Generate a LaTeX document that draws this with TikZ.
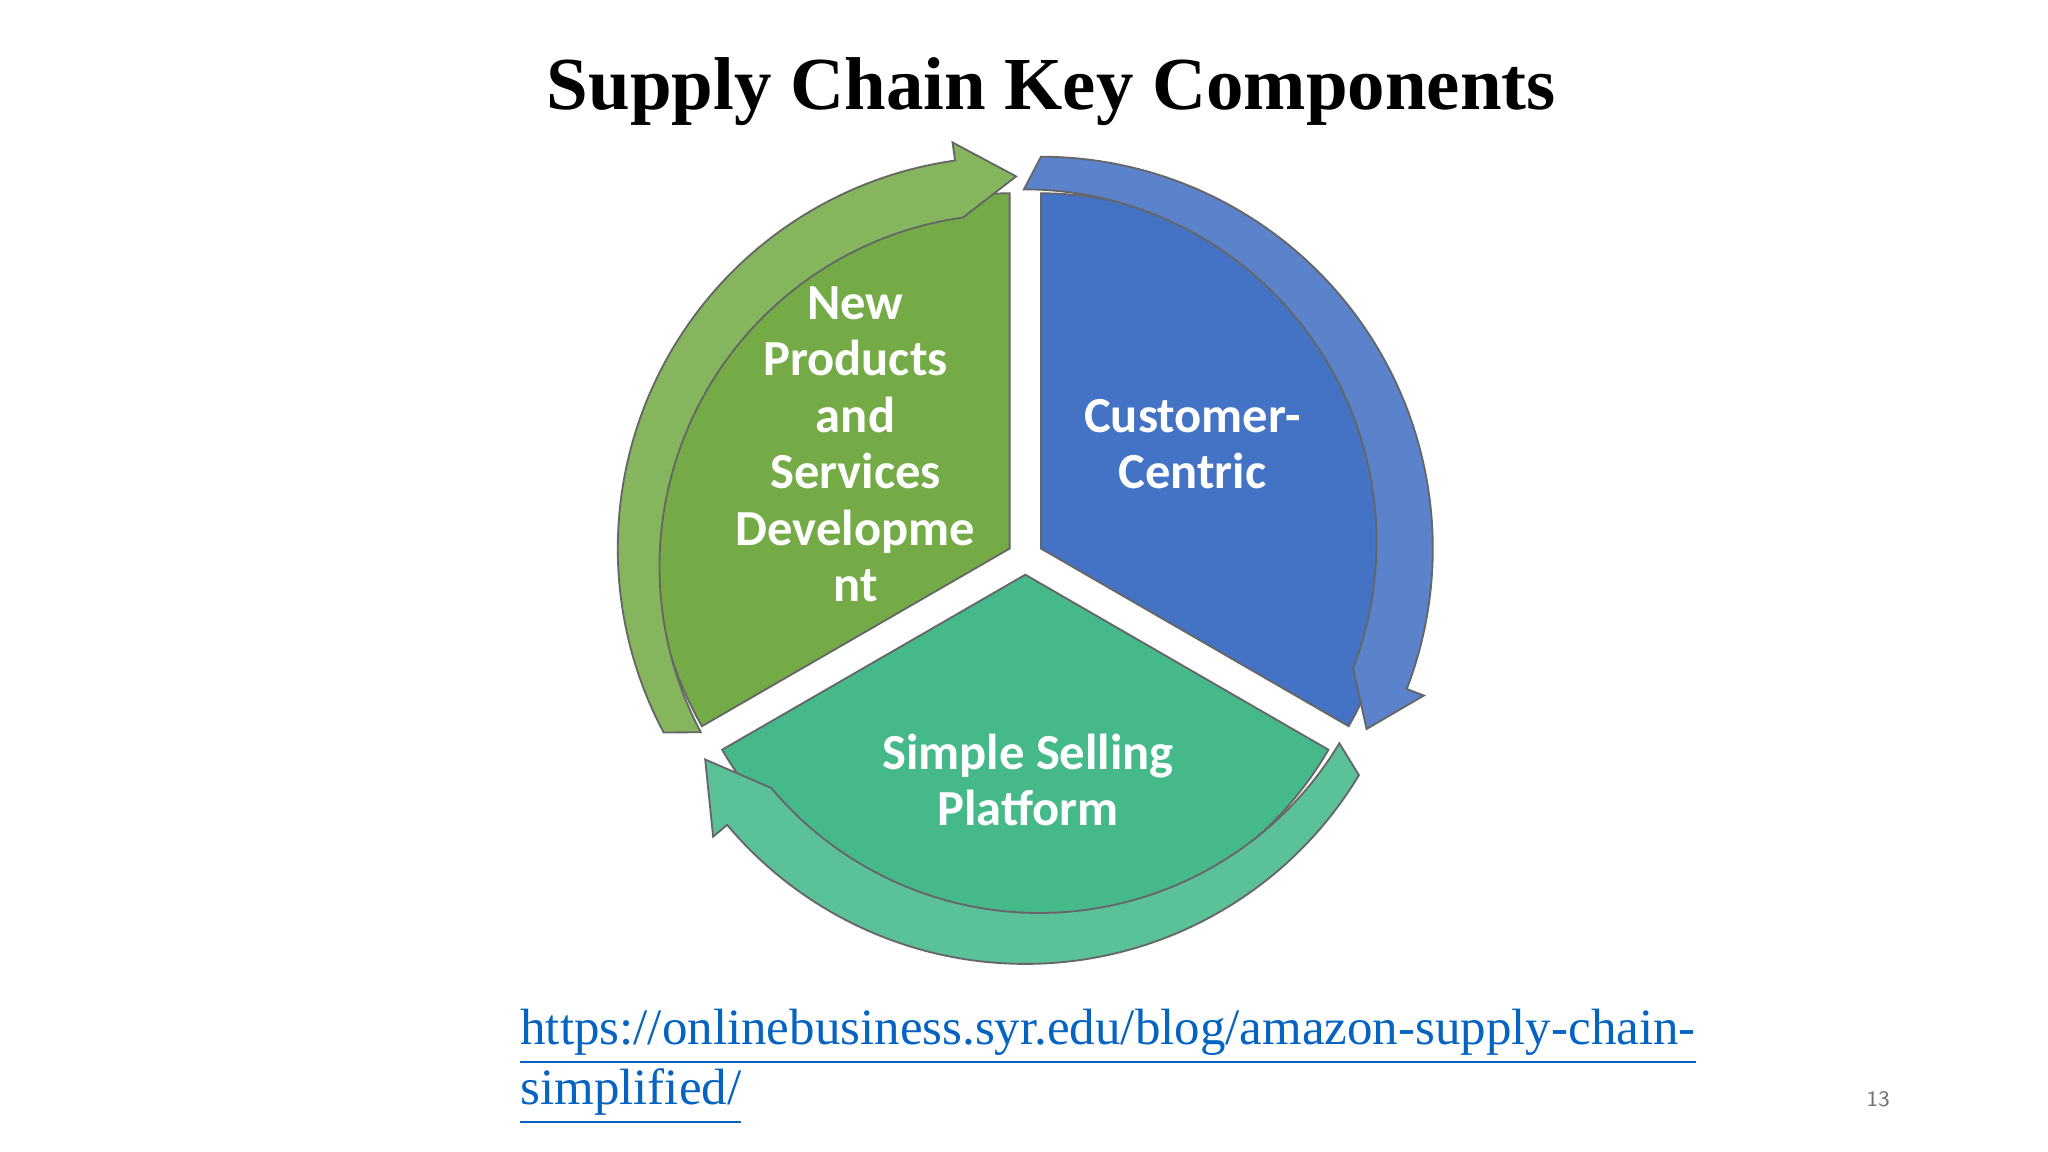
\documentclass[tikz,border=0pt]{standalone}
\usepackage{fontspec}
\setmainfont{Liberation Serif}
\newfontfamily\calfont{Carlito}
\definecolor{cblue}{HTML}{4472C4}
\definecolor{cgreen}{HTML}{74AB47}
\definecolor{cteal}{HTML}{45B98A}
\definecolor{url}{HTML}{0563C1}
\tikzset{
 lbl/.style={font=\calfont\bfseries\fontsize{11}{12.3}\selectfont,text=white,align=center},
 sect/.style={draw=black!60,thin},
}
% band: #1 start angle, #2 head base angle, #3 tip angle, #4 r inner, #5 r outer, #6 head overhang
\newcommand{\bandarrow}[6]{%
  (#1:#5) arc[start angle=#1,end angle=#2,radius=#5] -- (#2:#5+#6) -- (#3:#4/2+#5/2) -- (#2:#4-#6)
  arc[start angle=#2,end angle=#1,radius=#4] -- cycle}
\begin{document}
\begin{tikzpicture}[x=0.01cm,y=-0.01cm]
\useasboundingbox[fill=white] (0,0) rectangle (1568,882);
\node[font=\bfseries\fontsize{16.3}{18}\selectfont] (title) at (805,70) {Supply Chain Key Components};
\begin{scope}[shift={(797,420)},y=0.01cm]
 \fill[cblue,sect] (0,0) -- (90:272) arc[start angle=90,end angle=-30,radius=272] -- cycle;
 \filldraw[fill=cblue!88!white,sect] \bandarrow{90}{-21}{-29}{270}{300}{14};
\end{scope}
\begin{scope}[shift={(773,420)},y=0.01cm]
 \fill[cgreen,sect] (0,0) -- (90:272) arc[start angle=90,end angle=210,radius=272] -- cycle;
 \filldraw[fill=cgreen!88!white,sect] \bandarrow{208}{98}{89}{270}{300}{14};
\end{scope}
\begin{scope}[shift={(785,440)},y=0.01cm]
 \fill[cteal,sect] (0,0) -- (-30:268) arc[start angle=-30,end angle=-150,radius=268] -- cycle;
 \filldraw[fill=cteal!88!white,sect] \bandarrow{-31}{-140}{-150}{268}{298}{14};
 \node[lbl] (n1) at (-130,100) {New\\Products\\and\\Services\\Developme\\nt};
 \node[lbl] (n2) at (128,100) {Customer-\\Centric};
 \node[lbl] (n3) at (2,-157) {Simple Selling\\Platform};
\end{scope}
\node[anchor=north west,align=left,text=url,font=\fontsize{11.1}{13.2}\selectfont] (link) at (386,760)
 {\underline{https://onlinebusiness.syr.edu/blog/amazon-supply-chain-}\\\underline{simplified/}};
\node[text=black!55,font=\sffamily\fontsize{4.8}{6}\selectfont] (pg) at (1438,842) {13};
\end{tikzpicture}
\end{document}
